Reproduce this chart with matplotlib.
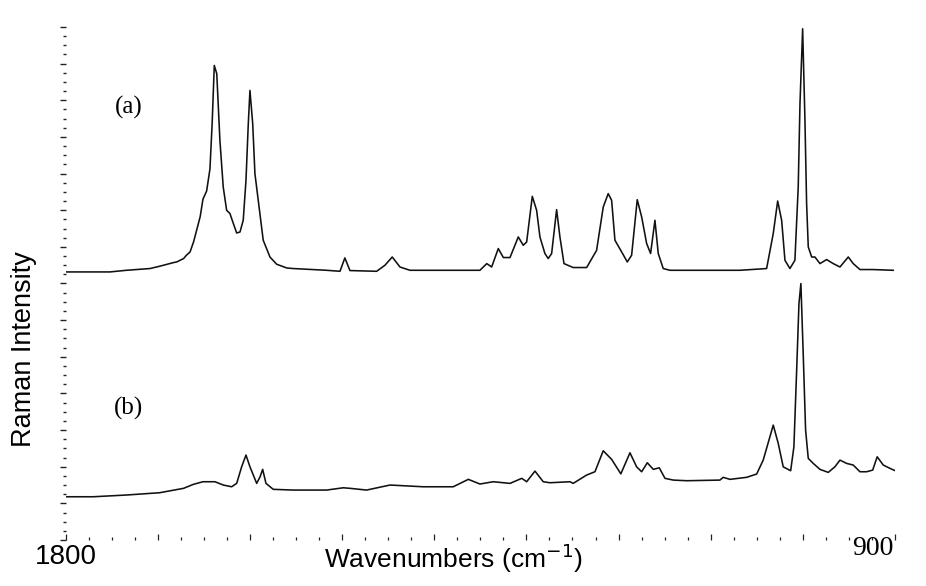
import matplotlib
matplotlib.use("Agg")
import matplotlib.pyplot as plt
from matplotlib.ticker import MultipleLocator, FuncFormatter

# spectrum (a): wavenumber (cm-1) and intensity (arb. units)
wn_a = [1800, 1752, 1734, 1708.5, 1698, 1683, 1679.5, 1672, 1669, 1665, 1661, 1654,
        1651, 1647, 1643.4, 1641, 1638.7, 1636, 1632.6, 1629, 1625.3, 1621.7, 1618, 1614.4,
        1610.8, 1607.3, 1604.3, 1601.8, 1600, 1597, 1594.6, 1591, 1585.6, 1578.3, 1571,
        1560, 1553, 1516.8, 1502.3, 1497, 1491.5, 1462.5, 1453.5, 1445.6, 1437.2, 1426.4,
        1393.8, 1350.4, 1343, 1337.7, 1330.5, 1325, 1317.8, 1308.8, 1303.4, 1299.7,
        1293.6, 1288.9, 1285.3, 1279.9, 1276.3, 1272.6, 1267.2, 1263.6, 1259.2, 1249.2,
        1234.6, 1223.8, 1216.6, 1211.2, 1207.5, 1203.9, 1196.6, 1190.5, 1185.8, 1179.7,
        1174.9, 1169.5, 1165.2, 1160.5, 1156.9, 1151.5, 1144.2, 1068.2, 1039.3, 1032.1,
        1027.3, 1023, 1019.4, 1014, 1008.6, 1005, 1003.1, 1000.2, 997.7, 995.9, 994.1,
        990.4, 986.9, 981.4, 974.2, 967, 959.7, 950.7, 945.3, 938, 923.6, 901.9]
int_a = [29.26, 29.26, 29.44, 29.63, 29.88, 30.28, 30.35, 30.72, 31.08, 31.44, 32.6, 35.3,
         37.2, 38.1, 40.5, 45.5, 51.8, 50.89, 43.62, 38.53, 35.99, 35.63, 34.54, 33.51,
         33.62, 34.9, 39.26, 45.44, 49.07, 45.44, 39.99, 37.08, 32.72, 30.89, 30.1,
         29.69, 29.63, 29.44, 29.33, 30.79, 29.41, 29.33, 29.99, 30.89, 29.8, 29.44,
         29.44, 29.44, 30.17, 29.8, 31.81, 30.83, 30.83, 33.08, 32.17, 32.53,
         37.51, 35.99, 33.08, 31.27, 30.72, 31.27, 36.06, 33.08, 30.17, 29.74,
         29.74, 31.62, 36.35, 37.81, 37.08, 32.72, 31.44, 30.35, 31.08, 37.15,
         35.26, 32.36, 31.27, 34.9, 31.27, 29.63, 29.44, 29.44, 29.63, 33.45,
         37.0, 34.9, 30.53, 29.63, 30.53, 38.53, 47.62, 55.8, 45.8, 36.72, 31.99,
         30.89, 30.89, 30.17, 30.61, 30.17, 29.8, 30.89, 30.17, 29.52, 29.52, 29.44]

# spectrum (b)
wn_b = [1799, 1770, 1734, 1698, 1672, 1661.5, 1651, 1638, 1629, 1619.9, 1614.4, 1609,
        1604.3, 1600, 1592.7, 1589, 1586.2, 1582.6, 1574.7, 1553, 1516.8, 1498.7, 1491.5,
        1473.4, 1448, 1412, 1379.4, 1363, 1350.4, 1336, 1317.8, 1305, 1299.7, 1290.7,
        1281.7, 1274.4, 1252.7, 1249.2, 1234.6, 1225.6, 1216.6, 1207.5, 1197.5, 1187.6,
        1180.4, 1174.9, 1168.8, 1162.3, 1155.8, 1149.6, 1140.6, 1126.1, 1090, 1086.4,
        1079.1, 1061, 1050.1, 1043, 1032.1, 1026.7, 1021.3, 1013.2, 1009.7, 1006.7,
        1004.2, 1002.1, 999.6, 997, 994.1, 988.7, 981.4, 972.4, 965.2, 959.7, 952.5,
        945.3, 938, 930.8, 924.2, 919.3, 912.7, 905.5, 899.7]
int_b = [4.72, 4.72, 4.91, 5.16, 5.64, 6.07, 6.36, 6.36, 6.0, 5.81, 6.18, 7.99,
         9.27, 7.99, 6.18, 6.9, 7.71, 6.18, 5.53, 5.45, 5.45, 5.7, 5.64,
         5.45, 6.0, 5.81, 5.81, 6.62, 6.11, 6.36, 6.18, 6.73, 6.36, 7.52,
         6.36, 6.25, 6.36, 6.18, 7.09, 7.45, 9.74, 8.8, 7.22, 9.52,
         7.99, 7.45, 8.43, 7.71, 7.88, 6.73, 6.54, 6.47, 6.54, 6.84,
         6.62, 6.84, 7.2, 8.72, 12.54, 10.55, 7.99, 7.56, 10.17, 18.54,
         25.81, 27.99, 20.36, 12.0, 8.91, 8.36, 7.71, 7.38, 7.99, 8.72, 8.36,
         8.18, 7.45, 7.45, 7.63, 9.08, 8.18, 7.82, 7.56]

SANS = "Liberation Sans"
SERIF = "Liberation Serif"

fig = plt.figure(figsize=(9.26, 5.86), dpi=100)
ax = fig.add_axes([0.0709, 0.0785, 0.8956, 0.8755])

ax.plot(wn_a, int_a, color="#111111", lw=1.15)
ax.plot(wn_b, int_b, color="#111111", lw=1.15)

ax.set_xlim(1800, 900)
ax.set_ylim(0, 56)

for s in ax.spines.values():
    s.set_visible(False)

ax.xaxis.set_major_locator(MultipleLocator(100))
ax.xaxis.set_minor_locator(MultipleLocator(25))
ax.xaxis.set_major_formatter(FuncFormatter(lambda v, p: "1800" if v == 1800 else ""))
ax.yaxis.set_major_locator(MultipleLocator(4))
ax.yaxis.set_minor_locator(MultipleLocator(1))
ax.yaxis.set_major_formatter(FuncFormatter(lambda v, p: ""))

ax.tick_params(axis="x", which="major", direction="in", length=4.5, width=0.9,
               pad=3, labelsize=20, color="#222222")
ax.tick_params(axis="x", which="minor", direction="in", length=2.5, width=0.9,
               color="#222222")
ax.tick_params(axis="y", which="major", direction="out", length=4.2, width=1.0,
               color="#222222")
ax.tick_params(axis="y", which="minor", direction="out", length=2.4, width=1.0,
               color="#222222")
for lab in ax.get_xticklabels():
    lab.set_fontfamily(SANS)

ax.set_xlabel("Wavenumbers (cm$^{-1}$)", fontsize=19, fontfamily=SANS)
ax.xaxis.set_label_coords(0.468, -0.002)
ax.set_ylabel("Raman Intensity", fontsize=19.5, fontfamily=SANS)
ax.yaxis.set_label_coords(-0.034, 0.372)

ax.text(924, 0.008, "900", transform=ax.get_xaxis_transform(), ha="center",
        va="top", fontsize=20, fontfamily=SERIF)
ax.text(1732, 47.2, "(a)", ha="center", va="center", fontsize=18, fontfamily=SERIF)
ax.text(1732, 14.4, "(b)", ha="center", va="center", fontsize=18, fontfamily=SERIF)

fig.savefig("out.png", dpi=100)
